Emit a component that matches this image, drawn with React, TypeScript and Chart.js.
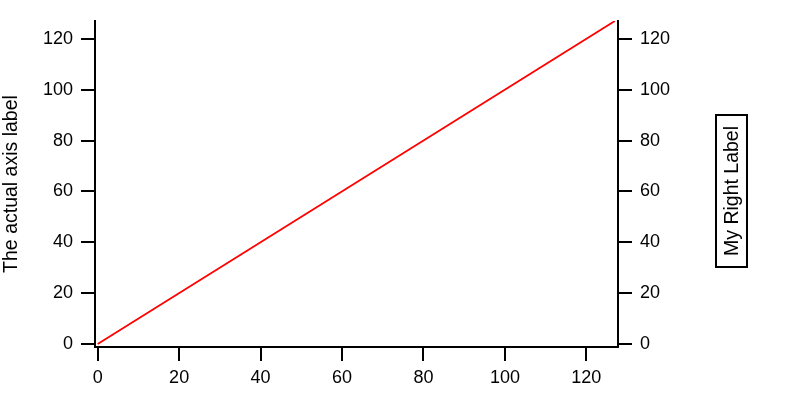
import React, { useEffect, useRef } from "react";
import { Chart, registerables } from "chart.js";

Chart.register(...registerables);

const xValues = [0, 127];
const yValues = [0, 127];
const tickValues = [0, 20, 40, 60, 80, 100, 120];
const leftLabel = "The actual axis label";
const rightLabel = "My Right Label";
const lineColor = "#ff0000";

const FONT = "'Liberation Sans', Arial, Helvetica, sans-serif";

const setTicks = (scale: any) => {
  scale.ticks = tickValues.map((v) => ({ value: v }));
};

const rightLabelPlugin = {
  id: "rightLabel",
  afterDraw(chart: any) {
    const ctx = chart.ctx;
    const cx = 731.5;
    const cy = 191;
    ctx.save();
    ctx.strokeStyle = "#000";
    ctx.lineWidth = 2;
    ctx.strokeRect(716, 115, 31, 152);
    ctx.translate(cx, cy);
    ctx.rotate(-Math.PI / 2);
    ctx.fillStyle = "#000";
    ctx.font = `19.5px ${FONT}`;
    ctx.textAlign = "center";
    ctx.textBaseline = "middle";
    ctx.fillText(rightLabel, 0, 1);
    ctx.restore();
  },
};

export default function App() {
  const ref = useRef<HTMLCanvasElement | null>(null);
  useEffect(() => {
    if (!ref.current) return;
    const gridCommon = {
      display: true,
      drawOnChartArea: false,
      drawTicks: true,
      tickLength: 14,
      lineWidth: 2,
      color: "#000",
    };
    const borderCommon = { display: true, width: 2, color: "#000" };
    const tickFont = { family: FONT, size: 18 };
    const chart = new Chart(ref.current, {
      type: "line",
      data: {
        datasets: [
          {
            data: xValues.map((x, i) => ({ x, y: yValues[i] })),
            borderColor: lineColor,
            borderWidth: 1.8,
            pointRadius: 0,
            fill: false,
            tension: 0,
          },
        ],
      },
      options: {
        responsive: false,
        animation: false,
        layout: { padding: { top: 21, left: 0, right: 0, bottom: 0 } },
        plugins: { legend: { display: false }, tooltip: { enabled: false } },
        scales: {
          x: {
            type: "linear",
            position: "bottom",
            min: -0.66,
            max: 127.77,
            afterBuildTicks: setTicks,
            afterFit: (s: any) => {
              s.height = 69;
            },
            grid: gridCommon,
            border: borderCommon,
            ticks: { color: "#000", font: tickFont, padding: 6, maxRotation: 0 },
          },
          y: {
            type: "linear",
            position: "left",
            min: -1.18,
            max: 127,
            afterBuildTicks: setTicks,
            afterFit: (s: any) => {
              s.width = 95;
            },
            grid: gridCommon,
            border: borderCommon,
            ticks: { color: "#000", font: tickFont, padding: 8 },
            title: {
              display: true,
              text: leftLabel,
              color: "#000",
              font: { family: FONT, size: 19.5 },
              padding: 0,
            },
          },
          y2: {
            type: "linear",
            position: "right",
            min: -1.18,
            max: 127,
            afterBuildTicks: setTicks,
            afterFit: (s: any) => {
              s.width = 172;
            },
            grid: gridCommon,
            border: borderCommon,
            ticks: { color: "#000", font: tickFont, padding: 8 },
          },
        },
      },
      plugins: [rightLabelPlugin],
    } as any);
    return () => chart.destroy();
  }, []);
  return (
    <div style={{ position: "absolute", left: 0, top: 0, width: 790, height: 416, background: "#fff" }}>
      <canvas ref={ref} width={790} height={416} />
    </div>
  );
}
